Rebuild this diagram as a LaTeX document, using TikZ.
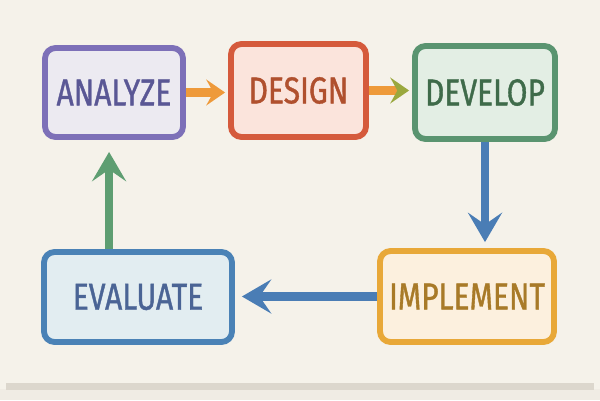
\documentclass[tikz,border=0pt]{standalone}
\usepackage{fontspec}
\newfontfamily\lab[FakeStretch=0.8, FakeBold=1.0]{Fira Sans}
\usetikzlibrary{arrows.meta}
\newdimen\pxu \pxu=0.03cm
\definecolor{bgc}{HTML}{F5F2EA}
\definecolor{bandc}{HTML}{DCD7CD}
\definecolor{lowc}{HTML}{F0ECE4}
\definecolor{anB}{HTML}{7D70B8}\definecolor{anF}{HTML}{ECEAF1}\definecolor{anT}{HTML}{5A5795}
\definecolor{deB}{HTML}{D55A3C}\definecolor{deF}{HTML}{FBE4DC}\definecolor{deT}{HTML}{B0502E}
\definecolor{dvB}{HTML}{5A9470}\definecolor{dvF}{HTML}{E3EEE4}\definecolor{dvT}{HTML}{3F6B4A}
\definecolor{imB}{HTML}{E8A838}\definecolor{imF}{HTML}{FCF0DE}\definecolor{imT}{HTML}{A87A28}
\definecolor{evB}{HTML}{4A82B6}\definecolor{evF}{HTML}{E2EDF1}\definecolor{evT}{HTML}{4A6495}
\definecolor{orA}{HTML}{EE9A3A}\definecolor{olA}{HTML}{9AA83E}
\definecolor{blA}{HTML}{4A7DB5}\definecolor{grA}{HTML}{5E9E72}
\tikzset{
  stagebox/.style={rectangle, rounded corners=9pt, line width=5pt,
    font=\lab\fontsize{32}{32}\selectfont, inner sep=0pt},
  smallarr/.style={line width=8pt, -{Stealth[length=16pt, width=22pt, inset=6pt]}},
  bigarr/.style={line width=7.5pt, -{Stealth[length=25pt, width=29pt, inset=10pt]}},
}
\begin{document}
\begin{tikzpicture}[x=0.03cm,y=-0.03cm]
\useasboundingbox (0,0) rectangle (600,400);
\fill[bgc] (0,0) rectangle (600,400);
\fill[lowc] (0,389) rectangle (600,400);
\fill[bandc] (6,383) rectangle (594,390);
\node[stagebox, draw=anB, fill=anF, text=anT, minimum width=138\pxu, minimum height=89\pxu] (a) at (114,92.5) {ANALYZE};
\node[stagebox, draw=deB, fill=deF, text=deT, minimum width=135\pxu, minimum height=93\pxu] (d) at (298.5,90.5) {DESIGN};
\node[stagebox, draw=dvB, fill=dvF, text=dvT, minimum width=140\pxu, minimum height=93\pxu] (v) at (485,92.5) {DEVELOP};
\node[stagebox, draw=imB, fill=imF, text=imT, minimum width=174\pxu, minimum height=91\pxu] (i) at (467,296.5) {IMPLEMENT};
\node[stagebox, draw=evB, fill=evF, text=evT, minimum width=188\pxu, minimum height=90\pxu] (e) at (138,297) {EVALUATE};
\draw[smallarr, orA, shorten >=3\pxu] (a.east) -- (a.east -| d.west);
\draw[orA, line width=8pt, -{Stealth[length=16pt, width=22pt, inset=6pt, color=olA]}, shorten >=3\pxu] (d.east) -- (d.east -| v.west);
\draw[bigarr, blA, shorten >=6\pxu] (v.south) -- (v.south |- i.north);
\draw[bigarr, blA, shorten >=7\pxu] (i.west) -- (i.west -| e.east);
\draw[bigarr, grA, line width=7pt, shorten >=12\pxu] ([xshift=68\pxu]e.north west) -- ([xshift=68\pxu]e.north west |- a.south);
\end{tikzpicture}
\end{document}
